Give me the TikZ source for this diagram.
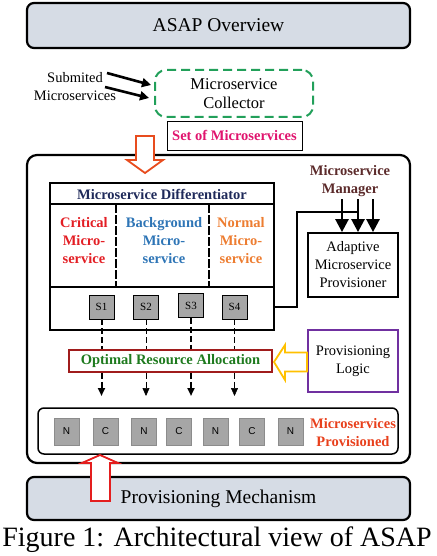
\documentclass[tikz,border=0pt]{standalone}
\usepackage{fontspec}
\setmainfont{Liberation Serif}
\setsansfont{Liberation Sans}
\usepackage{xcolor}
\definecolor{panelBack}  {HTML}{D6DCE5}
\definecolor{collectGreen}{HTML}{22A05A}
\definecolor{setPink}    {HTML}{E0146E}
\definecolor{inOrange}   {HTML}{E84C1E}
\definecolor{diffNavy}   {HTML}{1F2A5A}
\definecolor{critRed}    {HTML}{E31E24}
\definecolor{backBlue}   {HTML}{2E75B6}
\definecolor{normOrange} {HTML}{ED7D31}
\definecolor{mgrMaroon}  {HTML}{5C2B2B}
\definecolor{cellGray}   {HTML}{A6A6A6}
\definecolor{oraRed}     {HTML}{A01C1C}
\definecolor{oraGreen}   {HTML}{1E7A1E}
\definecolor{logicYellow}{HTML}{FFC000}
\definecolor{logicPurple}{HTML}{7030A0}
\definecolor{provRed}    {HTML}{E8401C}
\definecolor{mechRed}    {HTML}{E41E1E}
\usetikzlibrary{arrows.meta, positioning, calc}
\tikzset{
    txt/.style={font=\fontsize{14.5}{18}\selectfont, align=center},
    btxt/.style={font=\bfseries\fontsize{14.5}{18}\selectfont, align=center},
    banner/.style={draw, line width=2.2pt, rounded corners=7pt, fill=panelBack,
                   minimum width=383pt, font=\fontsize{19.5}{22}\selectfont},
    mainbox/.style={draw, line width=2.2pt, rounded corners=10pt,
                    minimum width=383pt, minimum height=308pt},
    collector/.style={txt, draw=collectGreen, line width=2pt, rounded corners=11pt,
                      dash pattern=on 9pt off 5pt, minimum width=158pt,
                      minimum height=47pt, font=\fontsize{16.5}{19}\selectfont},
    setbox/.style={btxt, draw, line width=0.8pt, text=setPink,
                   minimum width=135pt, minimum height=29pt},
    scell/.style={draw, fill=cellGray, line width=0.8pt, minimum width=25pt,
                  minimum height=24pt, inner sep=0pt, font=\fontsize{11}{12}\selectfont},
    nccell/.style={draw=black!45, fill=cellGray, line width=0.5pt, minimum width=25pt,
                   minimum height=27pt, inner sep=0pt, font=\sffamily\fontsize{10}{12}\selectfont},
    feed/.style={-{Triangle[length=9pt, width=9pt]}, line width=2.6pt},
    mgrarrow/.style={-{Triangle[length=13pt, width=13pt]}, line width=2.6pt},
    link/.style={line width=1.4pt},
    sthick/.style={line width=2pt, dash pattern=on 6pt off 3pt},
    sthin/.style={line width=0.6pt, dash pattern=on 6pt off 3pt},
    stip/.style={-{Triangle[length=8pt, width=7pt]}},
}

\begin{document}
\begin{tikzpicture}[
    x=1pt, y=-1pt,
    tableline/.style={line width=1.8pt},
    coldash/.style={line width=1.8pt, dash pattern=on 9pt off 2pt},
    blockarrow/.style={fill=white, line width=1.8pt, line join=miter},
]
\useasboundingbox (0,0) rectangle (436,556);
% Top banner.
\node[banner, minimum height=45pt] (overview) at (218.5,25.5) {ASAP Overview};
% Submission into the collector.
\node[txt] (submit) at (75,87) {Submited\\Microservices};
\node[collector] (collector) at (234,93.5) {Microservice\\Collector};
\node[setbox] (set) at (234.5,135.5) {Set of Microservices};
\coordinate (sub1) at (107,73);
\coordinate (sub2) at (105,87);
\draw[feed] (sub1) -- ($(collector.west)+(-3,-8.5)$);
\draw[feed] (sub2) -- ($(collector.west)+(-5,4.5)$);
% Main frame.
\node[mainbox] (core) at (218.5,309) {};
\draw[blockarrow, draw=inOrange] (136,136) -- (154,136) -- (154,160) -- (163,160)
    -- (145,173) -- (127,160) -- (136,160) -- cycle;
% Differentiator table.
\node[draw, tableline, minimum width=224pt, minimum height=147pt] (diff) at (162,256.5) {};
\node[btxt, text=diffNavy] (difftitle) at (162,194.5) {Microservice Differentiator};
\draw[tableline] ($(diff.north west)+(0,22)$) -- ($(diff.north east)+(0,22)$);
\draw[tableline] ($(diff.north west)+(0,105)$) -- ($(diff.north east)+(0,105)$);
\draw[coldash] ($(diff.north west)+(67,22)$) -- ($(diff.north west)+(67,105)$);
\draw[coldash] ($(diff.north west)+(160,22)$) -- ($(diff.north west)+(160,105)$);
\node[btxt, text=critRed] (critical) at (84,241) {Critical\\Micro-\\service};
\node[btxt, text=backBlue] (background) at (164,241) {Background\\Micro-\\service};
\node[btxt, text=normOrange] (normal) at (241,241) {Normal\\Micro-\\service};
\node[scell] (s1) at (101.5,307) {S1};
\node[scell] (s2) at (146,307) {S2};
\node[scell] (s3) at (191,305.5) {S3};
\node[scell] (s4) at (234.5,307) {S4};
% Manager and provisioner.
\node[btxt, text=mgrMaroon] (manager) at (350,181) {Microservice\\Manager};
\node[txt, draw, line width=1.8pt, minimum width=90pt, minimum height=64pt] (prov)
    at (353,265) {Adaptive\\Microservice\\Provisioner};
\coordinate (mg1) at (342,199);
\coordinate (mg2) at (358,199);
\coordinate (mg3) at (373,199);
\coordinate (lk) at (297,212);
\draw[link] (diff.east |- s4) -| (lk) -- (mg2 |- lk);
\draw[mgrarrow] (mg1) -- (mg1 |- prov.north);
\draw[mgrarrow] (mg2) -- (mg2 |- prov.north);
\draw[mgrarrow] (mg3) -- (mg3 |- prov.north);
% Resource allocation.
\node[btxt, text=oraGreen, draw=oraRed, line width=1.5pt, minimum width=203pt,
      minimum height=22pt, inner sep=0pt] (ora) at (170.5,361) {Optimal Resource Allocation};
\node[txt, draw=logicPurple, line width=2pt, minimum width=90pt, minimum height=62pt]
    (logic) at (353,361) {Provisioning\\Logic};
\draw[blockarrow, draw=logicYellow] (logic.west |- 0,352.5) -- (285,352.5) -- (285,345)
    -- (274,362) -- (285,380) -- (285,371.5) -- (logic.west |- 0,371.5) -- cycle;
\coordinate (tip) at (0,396);
\draw[sthick] (s1.south) -- (s1 |- ora.north);
\draw[sthin] (s2.south) -- (s2 |- ora.north);
\draw[sthick] (s3.south) -- (s3 |- ora.north);
\draw[sthin] (s4.south) -- (s4 |- ora.north);
\draw[sthick, stip] (s1 |- ora.south) -- (s1 |- tip);
\draw[sthin, stip] (s2 |- ora.south) -- (s2 |- tip);
\draw[sthick, stip] (s3 |- ora.south) -- (s3 |- tip);
\draw[sthin, stip] (s4 |- ora.south) -- (s4 |- tip);
% Provisioned microservices.
\node[draw, line width=1.5pt, rounded corners=6pt, minimum width=360pt,
      minimum height=46pt] (ncbox) at (218,431) {};
\node[nccell] (n1) at (66.5,431.5) {N};
\node[nccell] (c1) at (105.5,431.5) {C};
\node[nccell] (n2) at (144,431.5) {N};
\node[nccell] (c2) at (179,431.5) {C};
\node[nccell] (n3) at (215.5,431.5) {N};
\node[nccell] (c3) at (252,431.5) {C};
\node[nccell] (n4) at (290.5,431.5) {N};
\node[btxt, text=provRed] (provisioned) at (353,432.5) {Microservices\\Provisioned};
% Bottom banner.
\node[banner, minimum height=43pt] (mech) at (218.5,498.5) {Provisioning Mechanism};
\draw[blockarrow, draw=mechRed] (91,501) -- (110,501) -- (110,463) -- (118,463)
    -- (100,455) -- (82,463) -- (91,463) -- cycle;
% Caption.
\node[anchor=base, font=\fontsize{28}{30}\selectfont] (caption) at (217,546)
    {Figure 1: Architectural view of ASAP};
\end{tikzpicture}
\end{document}
